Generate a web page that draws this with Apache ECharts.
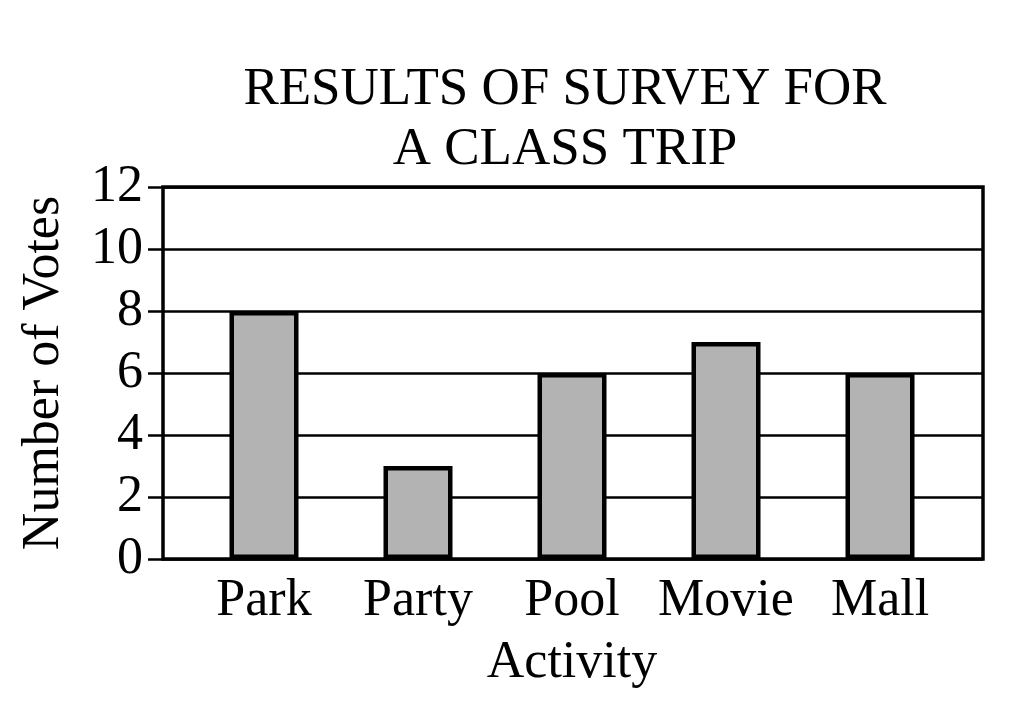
<!DOCTYPE html>
<html>
<head>
<meta charset="utf-8">
<script src="https://cdn.jsdelivr.net/npm/echarts@6/dist/echarts.min.js"></script>
<style>
  html, body { margin: 0; padding: 0; background: #fff; }
  #main { width: 1024px; height: 709px; }
</style>
</head>
<body>
<div id="main"></div>
<script>
// data
var activities = ['Park', 'Party', 'Pool', 'Movie', 'Mall'];
var votes = [8, 3, 6, 7, 6];
var yTicks = [0, 2, 4, 6, 8, 10, 12];

window.onload = function () {
  var chart = echarts.init(document.getElementById('main'));
  var font = '"Liberation Serif", "Times New Roman", serif';

  var option = {
    backgroundColor: '#fff',
    animation: false,
    title: {
      text: 'RESULTS OF SURVEY FOR\nA CLASS TRIP',
      left: 565,
      top: 60,
      padding: 0,
      textAlign: 'center',
      textStyle: {
        fontFamily: font,
        fontWeight: 'normal',
        fontSize: 53,
        lineHeight: 60,
        color: '#000'
      }
    },
    grid: [
      // frame + gridlines
      { left: 163, right: 41, top: 187, bottom: 150, outerBoundsMode: 'none', containLabel: false,
        show: true, borderColor: '#000', borderWidth: 3.5 },
      // bars
      { left: 187, right: 67, top: 187, bottom: 150, outerBoundsMode: 'none', containLabel: false }
    ],
    xAxis: [
      { gridIndex: 0, type: 'category', data: activities, show: false },
      {
        gridIndex: 1,
        type: 'category',
        data: activities,
        name: 'Activity',
        nameLocation: 'middle',
        nameGap: 78,
        nameTextStyle: { fontFamily: font, fontSize: 52, color: '#000' },
        axisLine: { show: false },
        axisTick: { show: false },
        axisLabel: { interval: 0, margin: 16, fontFamily: font, fontSize: 52, color: '#000' }
      }
    ],
    yAxis: [
      {
        gridIndex: 0,
        type: 'value',
        min: yTicks[0],
        max: yTicks[yTicks.length - 1],
        interval: 2,
        name: 'Number of Votes',
        nameLocation: 'middle',
        nameGap: 93,
        nameTextStyle: { fontFamily: font, fontSize: 52, color: '#000' },
        axisLine: { show: false },
        axisTick: { show: true, inside: false, length: 15, lineStyle: { color: '#000', width: 2.5 } },
        axisLabel: { margin: 20, fontFamily: font, fontSize: 52, color: '#000' },
        splitLine: { show: true, lineStyle: { color: '#000', width: 2.5 } }
      },
      {
        gridIndex: 1,
        type: 'value',
        min: yTicks[0],
        max: yTicks[yTicks.length - 1],
        show: false,
        splitLine: { show: false }
      }
    ],
    series: [{
      name: 'Votes',
      type: 'bar',
      xAxisIndex: 1,
      yAxisIndex: 1,
      data: votes,
      barWidth: 69,
      itemStyle: {
        color: '#b3b3b3',
        borderColor: '#000',
        borderWidth: 4.5
      }
    }]
  };

  chart.setOption(option);
};
</script>
</body>
</html>
